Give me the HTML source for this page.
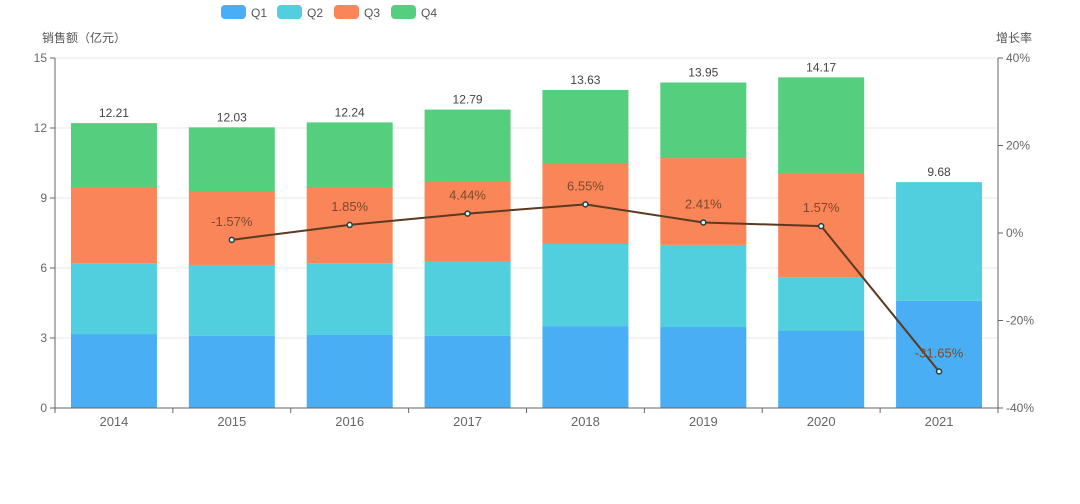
<!DOCTYPE html>
<html><head><meta charset="utf-8"><style>
body{margin:0;background:#fff;font-family:"Liberation Sans","Noto Sans CJK SC",sans-serif}
svg text{font-family:"Liberation Sans","Noto Sans CJK SC",sans-serif}
</style></head><body>
<svg id="c" width="1080" height="499"></svg>
<script>
const categories=["2014","2015","2016","2017","2018","2019","2020","2021"];
const q1=[3.17,3.09,3.13,3.09,3.51,3.47,3.30,4.59];
const q2=[3.04,3.04,3.08,3.17,3.52,3.52,2.31,5.09];
const q3=[3.26,3.17,3.26,3.47,3.47,3.72,4.46,0];
const q4=[2.74,2.73,2.77,3.06,3.13,3.24,4.10,0];
const totals=["12.21","12.03","12.24","12.79","13.63","13.95","14.17","9.68"];
const growth=[null,-1.57,1.85,4.44,6.55,2.41,1.57,-31.65];
const leftTicks=[0,3,6,9,12,15];
const rightTicks=[-40,-20,0,20,40];
const seriesNames=["Q1","Q2","Q3","Q4"];
const colors=["#4aaef5","#52cfdf","#fa8558","#55ce7e"];
const L=55,R=998,T=58,B=408;
const step=(R-L)/categories.length,bw=86;
const y=v=>B-(v/15)*(B-T);
const yr=v=>B-((v+40)/80)*(B-T);
const xc=i=>L+step*(i+0.5);
const svg=document.getElementById('c');const NS="http://www.w3.org/2000/svg";
function mk(t,a,p){const e=document.createElementNS(NS,t);for(const k in a)e.setAttribute(k,a[k]);(p||svg).appendChild(e);return e;}
leftTicks.forEach(v=>{
 if(v>0){const g=mk('line',{x1:L,x2:R,y1:y(v),y2:y(v),stroke:'#e8e8e8'});}
 mk('line',{x1:L-5,x2:L,y1:y(v),y2:y(v),stroke:'#666'});
 const t=mk('text',{x:L-8,y:y(v)+4,'text-anchor':'end','font-size':12,fill:'#666'});t.textContent=v;
 
});
rightTicks.forEach(v=>{
 mk('line',{x1:R,x2:R+5,y1:yr(v),y2:yr(v),stroke:'#666'});
 const t=mk('text',{x:R+8,y:yr(v)+4,'font-size':12,fill:'#666'});t.textContent=v+'%';
 
});
const series=[q1,q2,q3,q4];
categories.forEach((c,i)=>{
 let acc=0;
 series.forEach((s,k)=>{if(s[i]<=0)return;
  const r=mk('rect',{x:xc(i)-bw/2,y:y(acc+s[i]),width:bw,height:y(acc)-y(acc+s[i]),fill:colors[k]});
  
  acc+=s[i];});
 const t=mk('text',{x:xc(i),y:y(acc)-6,'text-anchor':'middle','font-size':12,fill:'#444'});t.textContent=totals[i];
 
 const xt=mk('text',{x:xc(i),y:B+18,'text-anchor':'middle','font-size':13,fill:'#666'});xt.textContent=c;
 
 mk('line',{x1:L+step*i,x2:L+step*i,y1:B,y2:B+5,stroke:'#666'});
});
mk('line',{x1:R,x2:R,y1:B,y2:B+5,stroke:'#666'});
const ax=mk('line',{x1:L,x2:L,y1:T,y2:B,stroke:'#666'});
const ax2=mk('line',{x1:R,x2:R,y1:T,y2:B,stroke:'#666'});
const xa=mk('line',{x1:L,x2:R,y1:B,y2:B,stroke:'#666'});
let pts=[];growth.forEach((g,i)=>{if(g!==null)pts.push([xc(i),yr(g),g]);});
const pl=mk('polyline',{points:pts.map(p=>p[0]+','+p[1]).join(' '),fill:'none',stroke:'#5b3a1f','stroke-width':2});

pts.forEach(p=>{const c=mk('circle',{cx:p[0],cy:p[1],r:2.5,fill:'#cfe',stroke:'#2f3a4a','stroke-width':1.5});
 
 const t=mk('text',{x:p[0],y:p[1]-14,'text-anchor':'middle','font-size':13,fill:'#7a4a2a'});t.textContent=p[2].toFixed(2)+'%';
 });
const t1=mk('text',{x:42,y:42,'font-size':12,fill:'#555'});t1.textContent='销售额（亿元）';
const t2=mk('text',{x:1014,y:42,'text-anchor':'middle','font-size':12,fill:'#555'});t2.textContent='增长率';
const lx=[221,277,334,391];
seriesNames.forEach((n,k)=>{
 const g=mk('g',{});
 mk('rect',{x:lx[k],y:5,width:25,height:14,rx:4,fill:colors[k]},g);
 const t=mk('text',{x:lx[k]+30,y:17,'font-size':12,fill:'#555'},g);t.textContent=n;
});
</script>
</body></html>
